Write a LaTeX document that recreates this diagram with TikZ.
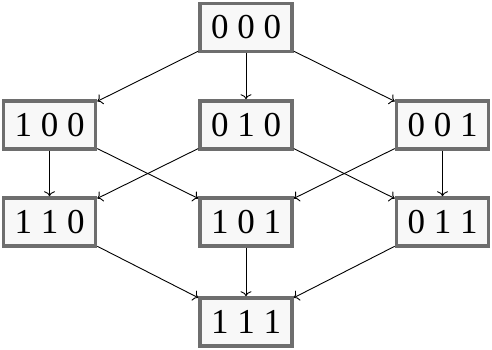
\documentclass[tikz,border=0pt]{standalone}
\usepackage{fontspec}
\setmainfont{Liberation Serif}
\usetikzlibrary{arrows.meta}
\definecolor{boxedge}{RGB}{110,110,110}
\definecolor{boxfill}{RGB}{248,248,248}
\begin{document}
\begin{tikzpicture}[x=1pt,y=1pt,
  state/.style={draw=boxedge, fill=boxfill, line width=3.5pt, minimum width=92pt, minimum height=48pt, inner sep=0pt, font=\fontsize{35}{42}\selectfont},
  edge/.style={-{To[length=5pt,width=11pt]}, line width=0.9pt, black}]
\useasboundingbox (0,0) rectangle (492,350);
\node[state] (n000) at (246,322.5) {0 0 0};
\node[state] (n100) at (49.5,225) {1 0 0};
\node[state] (n010) at (246,225) {0 1 0};
\node[state] (n001) at (442.5,225) {0 0 1};
\node[state] (n110) at (49.5,128) {1 1 0};
\node[state] (n101) at (246,128) {1 0 1};
\node[state] (n011) at (442.5,128) {0 1 1};
\node[state] (n111) at (246,28) {1 1 1};
\draw[edge] (n000) -- (n100);
\draw[edge] (n000) -- (n010);
\draw[edge] (n000) -- (n001);
\draw[edge] (n100) -- (n110);
\draw[edge] (n100) -- (n101);
\draw[edge] (n010) -- (n110);
\draw[edge] (n010) -- (n011);
\draw[edge] (n001) -- (n101);
\draw[edge] (n001) -- (n011);
\draw[edge] (n110) -- (n111);
\draw[edge] (n101) -- (n111);
\draw[edge] (n011) -- (n111);
\end{tikzpicture}
\end{document}
